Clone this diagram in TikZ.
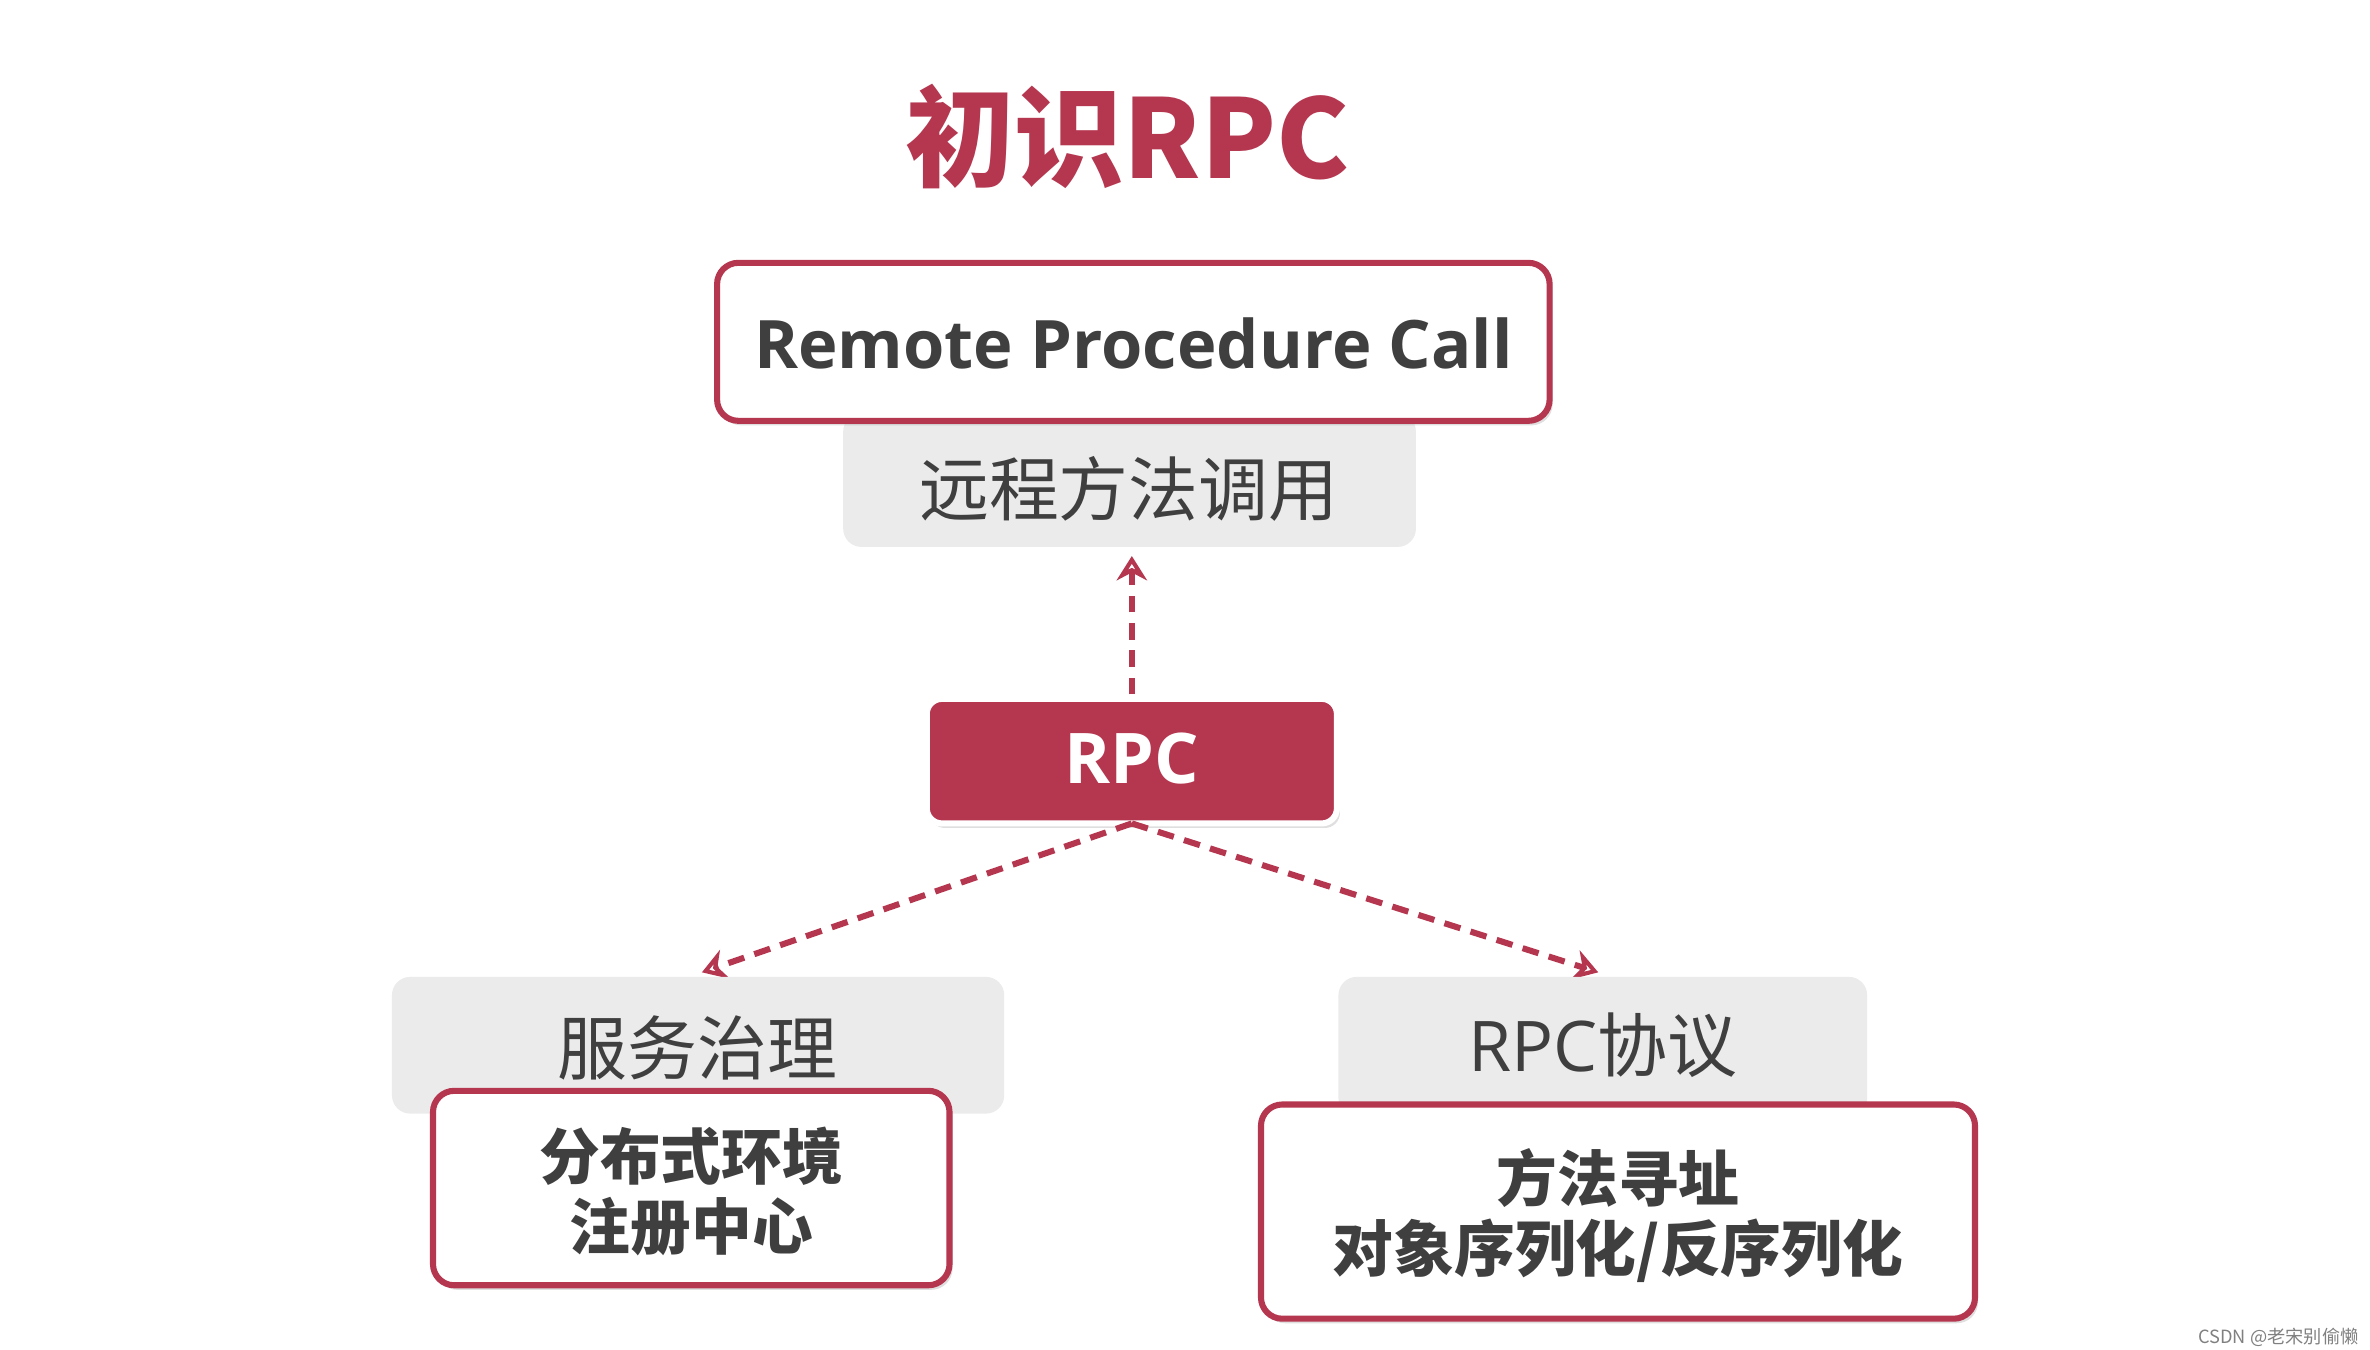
\documentclass[tikz,border=0pt]{standalone}
\usepackage{fontspec}
\setmainfont{Open Sans}
\newfontfamily\cjk{Noto Sans CJK SC}
\usetikzlibrary{arrows.meta,shadows}
\definecolor{crim}{HTML}{B5364F}
\definecolor{txt}{HTML}{3F3F3F}
\definecolor{gbox}{HTML}{EBEBEB}
\begin{document}
\begin{tikzpicture}[x=1pt,y=-1pt,
  wbox/.style={draw=crim,line width=4pt,fill=white,rounded corners=14pt,drop shadow={shadow xshift=2pt,shadow yshift=-3pt,opacity=0.25}},
  gb/.style={fill=gbox,rounded corners=12pt},
  dconn/.style={draw=crim,line width=4pt,dash pattern=on 11pt off 7pt,-{Stealth[length=16pt,width=20pt,open,line width=3pt]}},
  t/.style={text=txt,font=\cjk\fontsize{46}{54}\selectfont},
  tb/.style={text=txt,font=\cjk\bfseries\fontsize{40}{50}\selectfont,align=center}]
\useasboundingbox (0,0) rectangle (1560,888);
\node[text=crim,font=\cjk\bfseries\fontsize{72}{80}\selectfont] (title) at (742,90) {初识RPC};
\fill[gb] (555,272) rectangle (932,360);
\node[t] (yc) at (743,322) {远程方法调用};
\draw[wbox] (472,173) rectangle (1020,277);
\node[text=txt,font=\bfseries\fontsize{44}{50}\selectfont] (rpc1) at (746,226) {Remote Procedure Call};
\draw[white,line width=4pt,fill=crim,rounded corners=10pt,drop shadow={shadow xshift=2pt,shadow yshift=-3pt,opacity=0.25}] (610,460) rectangle (880,542);
\node[text=white,font=\bfseries\fontsize{46}{50}\selectfont] (rpc) at (745,499) {RPC};
\coordinate (rb) at (745,542);
\coordinate (rt) at (745,457);
\coordinate (up) at (745,366);
\coordinate (l) at (462,640);
\coordinate (r) at (1052,640);
\draw[dconn] (rt) -- (up);
\draw[dconn] (rb) -- (l);
\draw[dconn] (rb) -- (r);
\fill[gb] (258,643) rectangle (661,733);
\node[t] (fw) at (459,690) {服务治理};
\draw[wbox] (285,718) rectangle (625,846);
\node[tb] (fb) at (455,784) {分布式环境\\[-4pt]注册中心};
\fill[gb] (881,643) rectangle (1229,735);
\node[t,font=\fontsize{46}{54}\selectfont] (xy) at (1055,688) {RPC{\cjk 协议}};
\draw[wbox] (830,727) rectangle (1300,868);
\node[tb] (ff) at (1065,800) {方法寻址\\[-4pt]对象序列化/反序列化};
\node[text=gray,font=\cjk\fontsize{12}{14}\selectfont,anchor=east] (wm) at (1556,880) {CSDN @老宋别偷懒};
\end{tikzpicture}
\end{document}
